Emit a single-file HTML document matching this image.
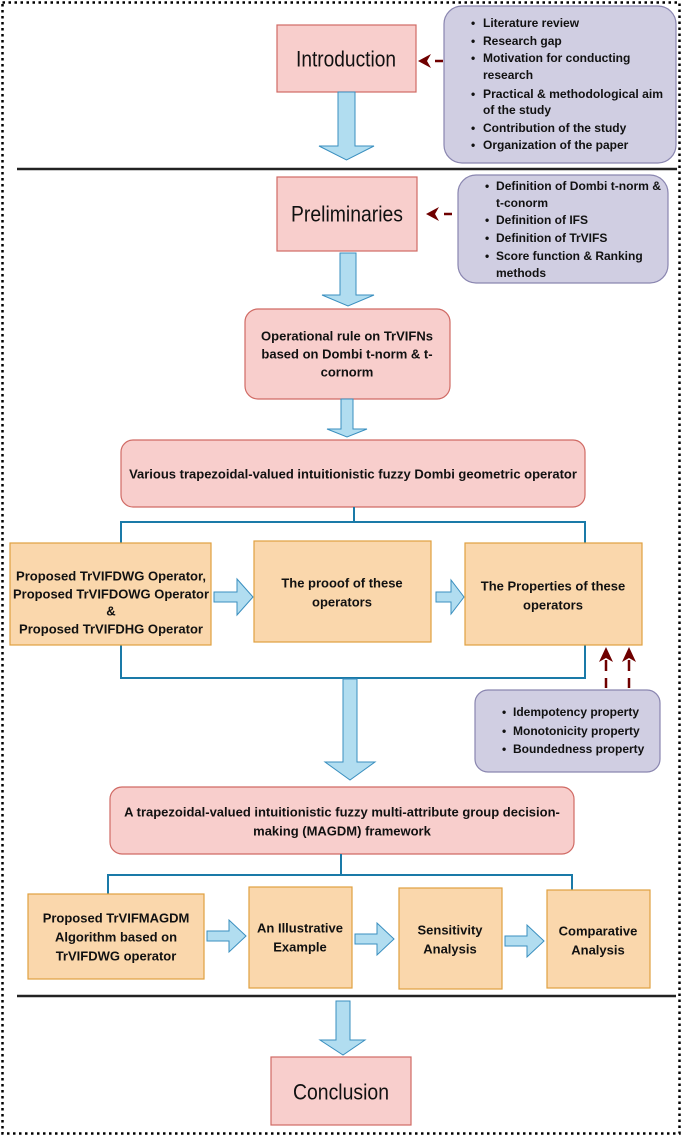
<!DOCTYPE html>
<html><head><meta charset="utf-8"><style>
html,body{margin:0;padding:0;background:#fff}
svg{display:block}
text{font-family:"Liberation Sans",sans-serif;fill:#111;dominant-baseline:central}
.b{font-weight:bold;font-size:13px}
.p{font-weight:bold;font-size:12px}
.c{font-size:22px;text-anchor:middle}
.m{text-anchor:middle}
</style></head><body>
<svg width="685" height="1139" viewBox="0 0 685 1139" xmlns="http://www.w3.org/2000/svg">
<rect x="2.5" y="2.5" width="677" height="1131" fill="none" stroke="#000" stroke-width="2.5" stroke-dasharray="2.5,3.5"/>

<line x1="17" y1="169" x2="677" y2="169" stroke="#222" stroke-width="2.5"/>
<line x1="17" y1="996" x2="676" y2="996" stroke="#222" stroke-width="2.5"/>

<!-- Introduction -->
<rect x="277" y="25" width="139" height="67" fill="#f8cecc" stroke="#d06a64" stroke-width="1.2"/>
<text class="c" x="346" y="59" textLength="100" lengthAdjust="spacingAndGlyphs">Introduction</text>
<path d="M338,92 H355 V146 H374 L346.5,160 L319,146 H338 Z" fill="#b1ddf0" stroke="#3a8fbf" stroke-width="1"/>
<rect x="444" y="6" width="232" height="157" rx="18" fill="#d0cee2" stroke="#8a86b0" stroke-width="1.2"/>
<g class="p">
<text x="471" y="23">•</text><text x="483" y="23">Literature review</text>
<text x="471" y="41">•</text><text x="483" y="41">Research gap</text>
<text x="471" y="58">•</text><text x="483" y="58">Motivation for conducting</text>
<text x="483" y="75">research</text>
<text x="471" y="94">•</text><text x="483" y="94" textLength="180" lengthAdjust="spacingAndGlyphs">Practical &amp; methodological aim</text>
<text x="483" y="110">of the study</text>
<text x="471" y="128">•</text><text x="483" y="128">Contribution of the study</text>
<text x="471" y="145">•</text><text x="483" y="145">Organization of the paper</text>
</g>
<line x1="435" y1="61" x2="443" y2="61" stroke="#6f0000" stroke-width="2.5"/>
<path d="M418,61 L431,54 L427,61 L431,68 Z" fill="#6f0000"/>

<!-- Preliminaries -->
<rect x="277" y="177" width="140" height="74" fill="#f8cecc" stroke="#d06a64" stroke-width="1.2"/>
<text class="c" x="347" y="214" textLength="112" lengthAdjust="spacingAndGlyphs">Preliminaries</text>
<path d="M340,253 H356 V295 H374 L348,306 L322,295 H340 Z" fill="#b1ddf0" stroke="#3a8fbf" stroke-width="1"/>
<rect x="458" y="175" width="210" height="108" rx="18" fill="#d0cee2" stroke="#8a86b0" stroke-width="1.2"/>
<g class="p">
<text x="485" y="186">•</text><text x="496" y="186" textLength="165" lengthAdjust="spacingAndGlyphs">Definition of Dombi t-norm &amp;</text>
<text x="496" y="203">t-conorm</text>
<text x="485" y="220">•</text><text x="496" y="220">Definition of IFS</text>
<text x="485" y="238">•</text><text x="496" y="238">Definition of TrVIFS</text>
<text x="485" y="256">•</text><text x="496" y="256">Score function &amp; Ranking</text>
<text x="496" y="273">methods</text>
</g>
<line x1="444" y1="214" x2="452" y2="214" stroke="#6f0000" stroke-width="2.5"/>
<path d="M426,214 L439,207 L435,214 L439,221 Z" fill="#6f0000"/>

<!-- Operational -->
<rect x="245" y="309" width="205" height="90" rx="13" fill="#f8cecc" stroke="#d06a64" stroke-width="1.2"/>
<g class="b m">
<text x="347" y="336">Operational rule on TrVIFNs</text>
<text x="347" y="354">based on Dombi t-norm &amp; t-</text>
<text x="347" y="372">cornorm</text>
</g>
<path d="M341,399 H353 V429 H367 L347,437 L327,429 H341 Z" fill="#b1ddf0" stroke="#3a8fbf" stroke-width="1"/>

<!-- Various -->
<rect x="121" y="440" width="464" height="67" rx="12" fill="#f8cecc" stroke="#d06a64" stroke-width="1.2"/>
<text class="b m" x="353" y="474">Various trapezoidal-valued intuitionistic fuzzy Dombi geometric operator</text>

<g fill="none" stroke="#1a7aa8" stroke-width="2">
<path d="M354,507 V522 M121,543 V522 H585 V543"/>
<path d="M121,645 V678 H585 V645"/>
</g>

<rect x="10" y="543" width="201" height="102" fill="#fad7ac" stroke="#e0a040" stroke-width="1.2"/>
<g class="b m">
<text x="111" y="576" textLength="190" lengthAdjust="spacingAndGlyphs">Proposed TrVIFDWG Operator,</text>
<text x="111" y="594" textLength="196" lengthAdjust="spacingAndGlyphs">Proposed TrVIFDOWG Operator</text>
<text x="111" y="611">&amp;</text>
<text x="111" y="629" textLength="184" lengthAdjust="spacingAndGlyphs">Proposed TrVIFDHG Operator</text>
</g>
<rect x="254" y="541" width="177" height="101" fill="#fad7ac" stroke="#e0a040" stroke-width="1.2"/>
<g class="b m">
<text x="342" y="583">The prooof of these</text>
<text x="342" y="602">operators</text>
</g>
<rect x="465" y="543" width="177" height="102" fill="#fad7ac" stroke="#e0a040" stroke-width="1.2"/>
<g class="b m">
<text x="553" y="586">The Properties of these</text>
<text x="553" y="605">operators</text>
</g>
<path d="M214,592 H237 V579 L253,597 L237,615 V602 H214 Z" fill="#b1ddf0" stroke="#3a8fbf" stroke-width="1"/>
<path d="M436,592 H451 V580 L464,597 L451,614 V602 H436 Z" fill="#b1ddf0" stroke="#3a8fbf" stroke-width="1"/>

<g stroke="#6f0000" stroke-width="2.5">
<line x1="606" y1="688" x2="606" y2="678"/><line x1="606" y1="671" x2="606" y2="660"/>
<line x1="629" y1="688" x2="629" y2="678"/><line x1="629" y1="671" x2="629" y2="660"/>
</g>
<path d="M606,647 L613,662 L606,658 L599,662 Z" fill="#6f0000"/>
<path d="M629,647 L636,662 L629,658 L622,662 Z" fill="#6f0000"/>
<rect x="475" y="690" width="185" height="82" rx="13" fill="#d0cee2" stroke="#8a86b0" stroke-width="1.2"/>
<g class="p">
<text x="502" y="712">•</text><text x="513" y="712">Idempotency property</text>
<text x="502" y="731">•</text><text x="513" y="731">Monotonicity property</text>
<text x="502" y="749">•</text><text x="513" y="749">Boundedness property</text>
</g>

<path d="M343,679 H357 V762 H375 L350,780 L325,762 H343 Z" fill="#b1ddf0" stroke="#3a8fbf" stroke-width="1"/>

<!-- MAGDM -->
<rect x="110" y="787" width="464" height="67" rx="12" fill="#f8cecc" stroke="#d06a64" stroke-width="1.2"/>
<g class="b m">
<text x="342" y="812">A trapezoidal-valued intuitionistic fuzzy multi-attribute group decision-</text>
<text x="342" y="831">making (MAGDM) framework</text>
</g>
<path d="M341,854 V875 M108,894 V875 H572 V890" fill="none" stroke="#1a7aa8" stroke-width="2"/>

<rect x="28" y="894" width="176" height="85" fill="#fad7ac" stroke="#e0a040" stroke-width="1.2"/>
<g class="b m">
<text x="116" y="918">Proposed TrVIFMAGDM</text>
<text x="116" y="937">Algorithm based on</text>
<text x="116" y="956">TrVIFDWG operator</text>
</g>
<rect x="249" y="887" width="103" height="101" fill="#fad7ac" stroke="#e0a040" stroke-width="1.2"/>
<g class="b m"><text x="300" y="928">An Illustrative</text><text x="300" y="947">Example</text></g>
<rect x="399" y="888" width="103" height="101" fill="#fad7ac" stroke="#e0a040" stroke-width="1.2"/>
<g class="b m"><text x="450" y="930">Sensitivity</text><text x="450" y="949">Analysis</text></g>
<rect x="547" y="890" width="103" height="98" fill="#fad7ac" stroke="#e0a040" stroke-width="1.2"/>
<g class="b m"><text x="598" y="931">Comparative</text><text x="598" y="950">Analysis</text></g>
<path d="M207,931 H229 V920 L246,936 L229,952 V941 H207 Z" fill="#b1ddf0" stroke="#3a8fbf" stroke-width="1"/>
<path d="M355,934 H377 V923 L394,939 L377,955 V944 H355 Z" fill="#b1ddf0" stroke="#3a8fbf" stroke-width="1"/>
<path d="M505,936 H527 V925 L544,941 L527,957 V946 H505 Z" fill="#b1ddf0" stroke="#3a8fbf" stroke-width="1"/>

<path d="M336,1001 H350 V1040 H365 L343,1055 L320,1040 H336 Z" fill="#b1ddf0" stroke="#3a8fbf" stroke-width="1"/>
<rect x="271" y="1057" width="140" height="68" fill="#f8cecc" stroke="#d06a64" stroke-width="1.2"/>
<text class="c" x="341" y="1092" textLength="96" lengthAdjust="spacingAndGlyphs">Conclusion</text>
</svg>
</body></html>
